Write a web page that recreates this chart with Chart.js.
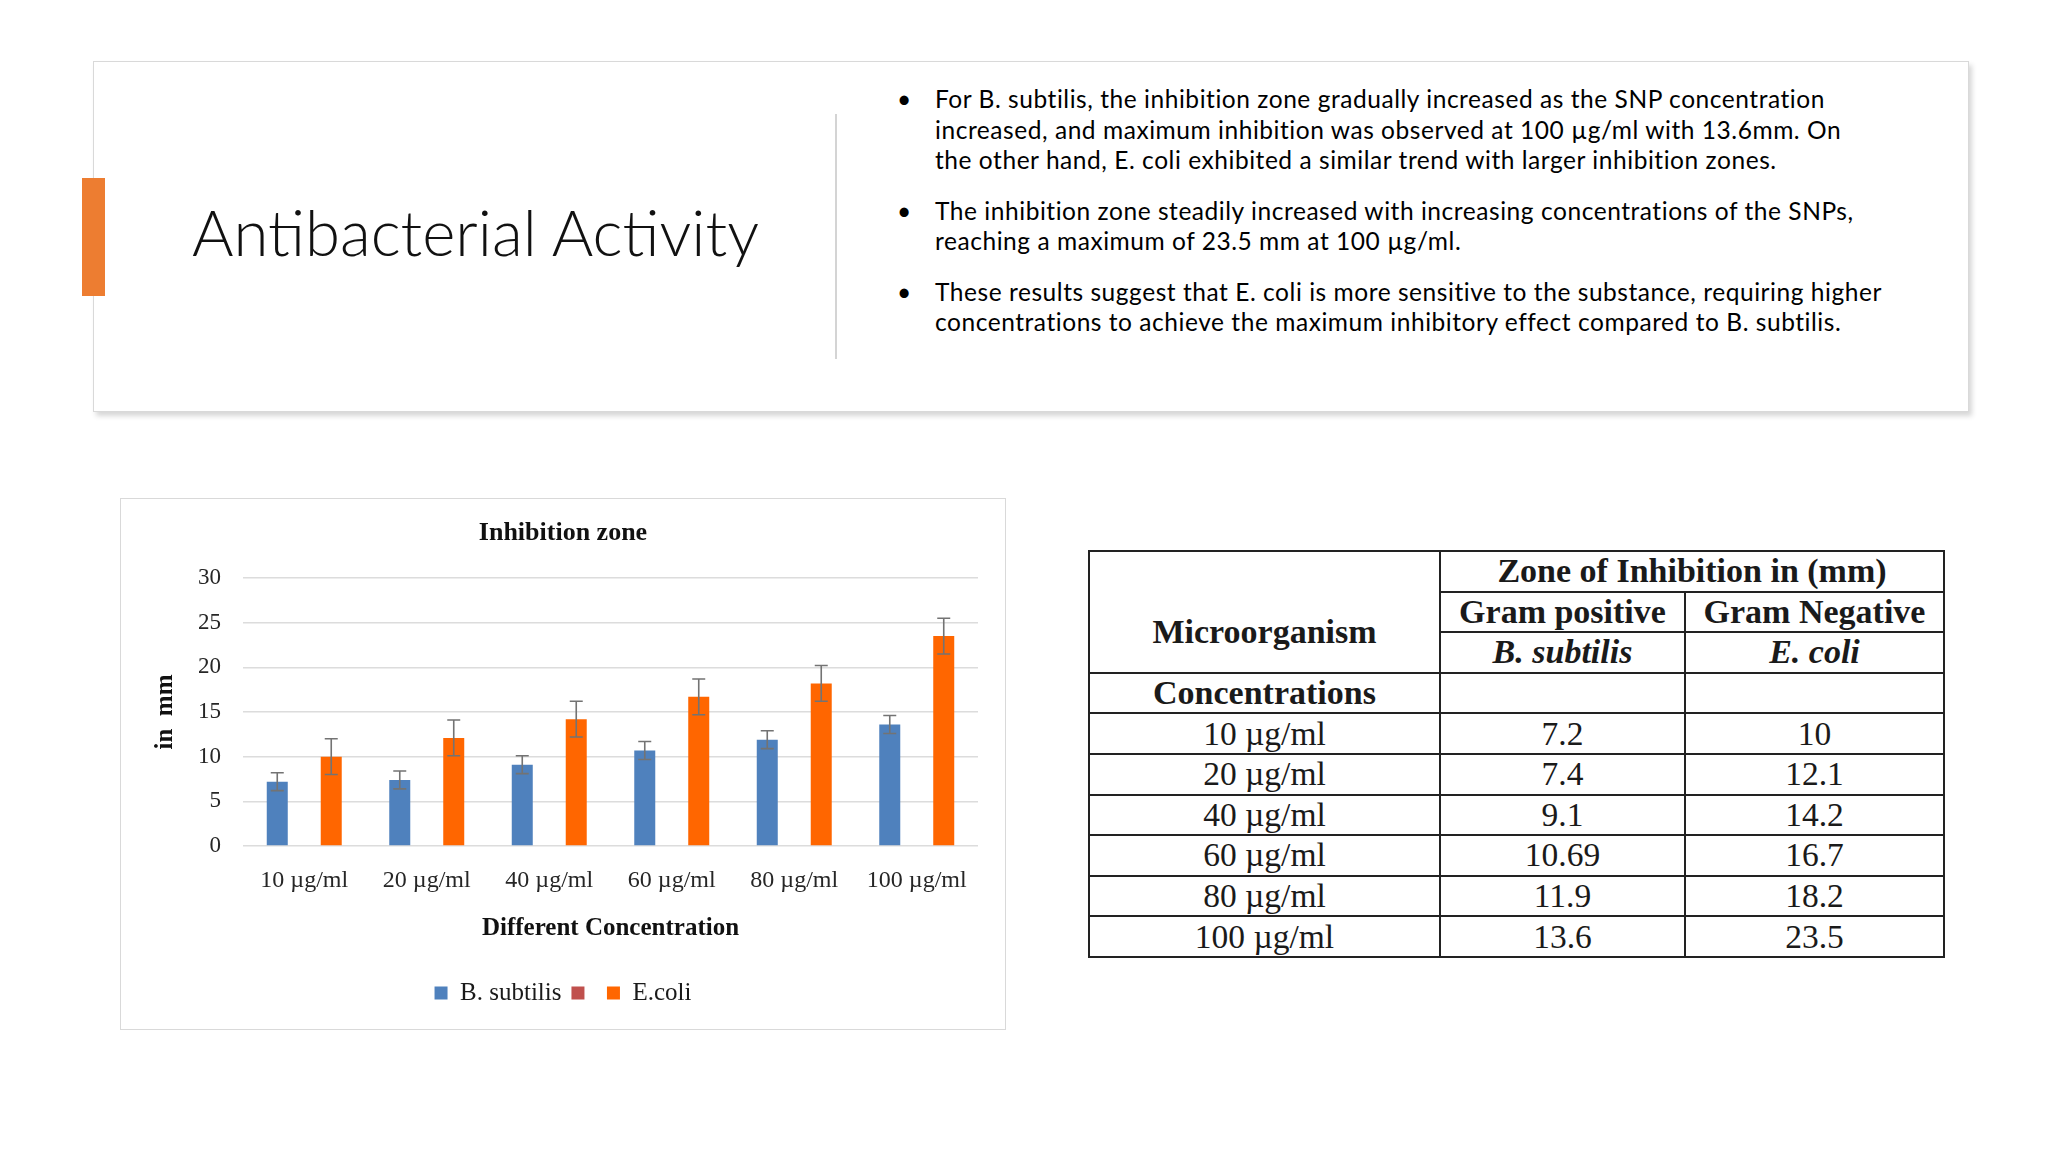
<!DOCTYPE html>
<html>
<head>
<meta charset="utf-8">
<script src="https://cdn.jsdelivr.net/npm/chart.js@4.4.1/dist/chart.umd.min.js"></script>
<style>
  html, body { margin: 0; padding: 0; background: #fff; }
  body { width: 2048px; height: 1152px; position: relative; overflow: hidden; font-family: Lato, "Open Sans", sans-serif; color: #000; }
  .card { position: absolute; left: 93px; top: 61px; width: 1876px; height: 351px; box-sizing: border-box;
          border: 1px solid #d9d9d9; background: #fff; box-shadow: 3px 4px 5px rgba(0,0,0,0.16); }
  .accent { position: absolute; left: 82px; top: 178px; width: 23px; height: 118px; background: #ed7d31; }
  .slide-title { position: absolute; left: 192px; top: 194px; font-size: 63.5px; font-weight: 300; line-height: 76px; white-space: nowrap; color: #111; }
  .divider { position: absolute; left: 835px; top: 114px; width: 2px; height: 245px; background: #d4d4d4; }
  .bullets { position: absolute; left: 897px; top: 84px; font-size: 24.5px; letter-spacing: 0.55px; line-height: 30.5px; white-space: nowrap; }
  .bullets .item { position: relative; padding-left: 38px; margin-bottom: 20px; }
  .bullets .item::before { content: "\2022"; position: absolute; left: 0; top: 0; }
  .chart-box { position: absolute; left: 120px; top: 498px; width: 886px; height: 532px; box-sizing: border-box; border: 1px solid #d9d9d9; }
  .chart-box canvas { display: block; }
  table.zone { position: absolute; left: 1088px; top: 550px; border-collapse: collapse; font-family: "Liberation Serif", "Times New Roman", serif; color: #1a1a1a; }
  table.zone td { border: 2px solid #222; height: 38.6px; padding: 0; text-align: center; font-size: 33.5px; line-height: 38px; }
  table.zone td.h { font-weight: bold; font-size: 34px; }
  table.zone td.i { font-style: italic; }
  table.zone td.low { vertical-align: middle; padding-top: 40px; }
</style>
</head>
<body>
<div class="card"></div>
<div class="accent"></div>
<div class="slide-title">Antibacterial Activity</div>
<div class="divider"></div>
<div class="bullets">
  <div class="item">For B. subtilis, the inhibition zone gradually increased as the SNP concentration<br>increased, and maximum inhibition was observed at 100 µg/ml with 13.6mm. On<br>the other hand, E. coli exhibited a similar trend with larger inhibition zones.</div>
  <div class="item">The inhibition zone steadily increased with increasing concentrations of the SNPs,<br>reaching a maximum of 23.5 mm at 100 µg/ml.</div>
  <div class="item">These results suggest that E. coli is more sensitive to the substance, requiring higher<br>concentrations to achieve the maximum inhibitory effect compared to B. subtilis.</div>
</div>

<div class="chart-box"><canvas id="zoneChart" width="884" height="530"></canvas></div>

<table class="zone" id="zoneTable"></table>

<script>
const categories = ['10 µg/ml', '20 µg/ml', '40 µg/ml', '60 µg/ml', '80 µg/ml', '100 µg/ml'];
const bSubtilis = [7.2, 7.4, 9.1, 10.69, 11.9, 13.6];
const eColi = [10, 12.1, 14.2, 16.7, 18.2, 23.5];
const bSubtilisErr = [1, 1, 1, 1, 1, 1];
const eColiErr = [2, 2, 2, 2, 2, 2];
const emptySeries = [null, null, null, null, null, null];
const yMin = 0, yMax = 30, yStep = 5;

const serif = '"Liberation Serif", "Times New Roman", serif';

// error bars drawn on top of the bars
const errorBars = {
  id: 'errorBars',
  afterDatasetsDraw(chart) {
    const ctx = chart.ctx;
    const y = chart.scales.y;
    chart.data.datasets.forEach((ds, di) => {
      if (!ds.errors) return;
      const meta = chart.getDatasetMeta(di);
      meta.data.forEach((bar, i) => {
        const v = ds.data[i];
        if (v == null) return;
        const top = y.getPixelForValue(v + ds.errors[i]);
        const bot = y.getPixelForValue(v - ds.errors[i]);
        ctx.save();
        ctx.strokeStyle = '#737373';
        ctx.lineWidth = 1.6;
        ctx.beginPath();
        ctx.moveTo(bar.x, top); ctx.lineTo(bar.x, bot);
        ctx.moveTo(bar.x - 6.5, top); ctx.lineTo(bar.x + 6.5, top);
        ctx.moveTo(bar.x - 6.5, bot); ctx.lineTo(bar.x + 6.5, bot);
        ctx.stroke();
        ctx.restore();
      });
    });
  }
};

new Chart(document.getElementById('zoneChart'), {
  type: 'bar',
  data: {
    labels: categories,
    datasets: [
      { label: 'B. subtilis', data: bSubtilis, errors: bSubtilisErr, backgroundColor: '#4f81bd', borderWidth: 0,
        categoryPercentage: 0.661, barPercentage: 0.778 },
      { label: '', data: emptySeries, backgroundColor: '#c0504d', borderWidth: 0,
        categoryPercentage: 0.661, barPercentage: 0.778 },
      { label: 'E.coli', data: eColi, errors: eColiErr, backgroundColor: '#ff6600', borderWidth: 0,
        categoryPercentage: 0.661, barPercentage: 0.778 }
    ]
  },
  options: {
    responsive: false,
    animation: false,
    layout: { padding: { left: 0, right: 0, top: 0, bottom: 13.5 } },
    plugins: {
      title: {
        display: true, text: 'Inhibition zone', color: '#111',
        font: { family: serif, size: 26, weight: 'bold' },
        padding: { top: 18.4, bottom: 29.4 }
      },
      legend: {
        position: 'bottom',
        labels: { boxWidth: 13, boxHeight: 13, padding: 10, color: '#1a1a1a', font: { family: serif, size: 25 } }
      },
      tooltip: { enabled: false }
    },
    scales: {
      x: {
        grid: { display: false },
        border: { display: false },
        ticks: { color: '#262626', font: { family: serif, size: 24 }, padding: 12.6, maxRotation: 0, autoSkip: false },
        title: { display: true, text: 'Different Concentration', color: '#111',
                 font: { family: serif, size: 25, weight: 'bold' }, padding: { top: 0, bottom: 26.5 } },
        afterFit: s => { s.height = 124.5; }
      },
      y: {
        min: yMin, max: yMax,
        ticks: { stepSize: yStep, padding: 22, color: '#262626', font: { family: serif, size: 23 } },
        grid: { color: '#dcdcdc', lineWidth: 1.5, drawTicks: false },
        border: { display: false },
        title: { display: true, text: 'in  mm', color: '#111',
                 font: { family: serif, size: 25, weight: 'bold' }, padding: { top: 30, bottom: 0 } },
        afterFit: s => { s.width = 122; }
      },
      yRight: {
        position: 'right',
        grid: { display: false, drawTicks: false },
        border: { display: false },
        ticks: { display: false },
        afterFit: s => { s.width = 27; }
      }
    }
  },
  plugins: [errorBars]
});

// table built from the same arrays
const table = document.getElementById('zoneTable');
let html = '<colgroup><col style="width:351px"><col style="width:245px"><col style="width:259px"></colgroup>';
html += '<tr><td class="h low" rowspan="3">Microorganism</td><td class="h" colspan="2">Zone of Inhibition in (mm)</td></tr>';
html += '<tr><td class="h">Gram positive</td><td class="h">Gram Negative</td></tr>';
html += '<tr><td class="h i">B. subtilis</td><td class="h i">E. coli</td></tr>';
html += '<tr><td class="h">Concentrations</td><td></td><td></td></tr>';
categories.forEach((c, i) => {
  html += '<tr><td>' + c + '</td><td>' + bSubtilis[i] + '</td><td>' + eColi[i] + '</td></tr>';
});
table.innerHTML = html;
</script>
</body>
</html>
